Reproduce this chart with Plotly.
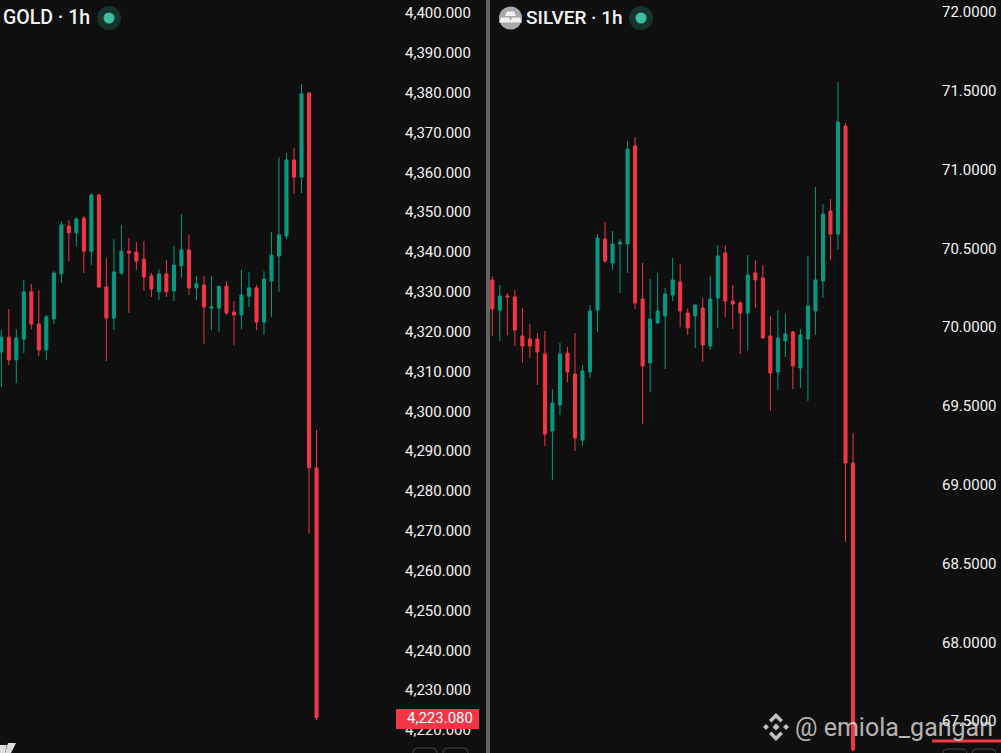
import plotly.graph_objects as go

gold_open = [4314.9,4318.6,4312.9,4318.1,4330.0,4321.9,4315.4,4323.2,4334.5,4346.5,4344.8,4348.5,4340.2,4354.3,4331.2,4323.4,4334.7,4340.2,4340.0,4338.2,4334.0,4330.0,4334.5,4330.2,4336.5,4340.5,4331.0,4331.7,4325.9,4325.9,4331.4,4324.9,4324.2,4328.9,4331.0,4322.4,4332.7,4339.0,4344.0,4363.1,4358.8,4379.9,4285.8]
gold_high = [4320.4,4325.7,4320.6,4333.0,4332.0,4330.4,4324.2,4335.2,4347.8,4348.0,4348.8,4349.0,4354.8,4354.6,4338.5,4343.2,4346.8,4343.5,4342.5,4342.8,4334.7,4335.7,4338.0,4341.5,4349.5,4344.3,4334.0,4334.0,4334.0,4331.5,4332.7,4327.7,4335.5,4335.0,4331.7,4335.2,4345.0,4363.8,4364.8,4366.1,4382.2,4380.2,4295.3]
gold_low = [4306.1,4311.6,4307.1,4314.6,4320.6,4313.9,4312.9,4321.9,4332.2,4337.7,4341.5,4334.7,4336.7,4331.0,4312.6,4320.4,4334.2,4324.7,4335.5,4330.2,4328.7,4327.9,4328.7,4327.7,4333.5,4329.2,4327.9,4316.9,4320.4,4319.9,4324.2,4316.6,4320.6,4326.2,4320.4,4319.2,4323.7,4330.0,4343.2,4354.6,4354.8,4269.4,4222.5]
gold_close = [4318.6,4312.9,4318.4,4330.0,4321.9,4315.4,4323.7,4334.7,4346.8,4344.8,4348.3,4340.2,4354.3,4331.2,4323.4,4335.0,4340.2,4339.7,4337.7,4333.7,4330.7,4334.5,4330.0,4336.7,4340.5,4331.0,4332.0,4326.2,4326.2,4331.4,4324.7,4324.2,4329.2,4331.0,4322.4,4333.2,4339.2,4344.3,4363.1,4358.8,4379.7,4285.8,4223.08]

silver_open = [70.299,70.109,70.198,70.192,69.944,69.925,69.925,69.830,69.341,69.506,69.836,69.703,69.284,69.716,70.109,70.559,70.407,70.528,70.528,71.150,70.179,69.773,70.027,70.071,70.204,70.287,70.090,70.071,70.122,69.881,70.185,70.471,70.166,70.154,70.090,70.344,70.312,69.944,69.716,69.913,69.970,69.741,69.925,70.103,70.293,70.737,70.591,71.277,69.138]
silver_high = [70.325,70.268,70.217,70.236,70.122,70.020,69.963,69.976,69.608,69.900,69.874,69.963,69.760,70.141,70.591,70.667,70.610,70.559,71.181,71.207,70.407,70.306,70.344,70.249,70.439,70.401,70.116,70.141,70.185,70.325,70.522,70.522,70.268,70.166,70.458,70.426,70.395,70.071,70.109,70.084,69.976,69.989,70.452,70.890,70.782,70.814,71.556,71.296,69.329]
silver_low = [69.944,69.912,69.951,69.881,69.773,69.805,69.633,69.246,69.031,69.443,69.652,69.214,69.246,69.677,69.969,70.407,70.363,70.217,70.344,70.116,69.386,69.589,70.020,69.735,70.166,70.001,69.951,69.868,69.779,69.855,69.995,70.065,69.989,69.830,69.855,70.122,69.925,69.468,69.602,69.811,69.608,69.614,69.532,69.951,70.185,70.426,70.490,68.637,67.31]
silver_close = [70.116,70.198,70.192,69.982,69.881,69.881,69.843,69.322,69.519,69.830,69.716,69.297,69.722,70.103,70.566,70.420,70.528,70.540,71.130,70.154,69.754,70.052,70.103,70.211,70.300,70.103,69.995,70.141,69.887,70.179,70.452,70.166,70.147,70.090,70.331,70.300,69.932,69.709,69.932,69.957,69.754,69.951,70.135,70.300,70.718,70.591,71.302,69.138,67.317]

gold_ticks = [4220,4230,4240,4250,4260,4270,4280,4290,4300,4310,4320,4330,4340,4350,4360,4370,4380,4390,4400]
silver_ticks = [67.5,68.0,68.5,69.0,69.5,70.0,70.5,71.0,71.5,72.0]
gold_title = "GOLD · 1h"
silver_title = "SILVER · 1h"
gold_last = 4223.08
silver_last_line = 67.374
watermark = "@ emiola_gangan"

BG = "#0f0f0f"
UP = "#089981"
DOWN = "#F23645"
W, H = 1001, 753
def px(x): return x / W
def py(y): return 1 - y / H

def candle(o, h, l, c, xa, ya):
    return go.Candlestick(
        x=list(range(len(o))), open=o, high=h, low=l, close=c,
        xaxis=xa, yaxis=ya, showlegend=False, whiskerwidth=0,
        increasing=dict(line=dict(color=UP, width=1), fillcolor=UP),
        decreasing=dict(line=dict(color=DOWN, width=1), fillcolor=DOWN),
    )

fig = go.Figure()
fig.add_trace(candle(gold_open, gold_high, gold_low, gold_close, "x", "y"))
fig.add_trace(candle(silver_open, silver_high, silver_low, silver_close, "x2", "y2"))

tick_font = dict(family="Roboto", size=15, color="#f2f2f2")

def circle(cx, cy, r, fill):
    return dict(type="circle", xref="paper", yref="paper", x0=px(cx-r), x1=px(cx+r), y0=py(cy+r), y1=py(cy-r),
                fillcolor=fill, line=dict(width=0), layer="above")

def poly(points, fill, line=None):
    d = "M " + " L ".join(f"{px(x):.5f},{py(y):.5f}" for x, y in points) + " Z"
    return dict(type="path", xref="paper", yref="paper", path=d, fillcolor=fill,
                line=line or dict(width=0), layer="above")

def diamond(cx, cy, r, fill):
    return poly([(cx, cy-r), (cx+r, cy), (cx, cy+r), (cx-r, cy)], fill)

def round_box(x0, x1, y0, y1, r=5):
    d = (f"M {px(x0):.5f},{py(y1):.5f} L {px(x0):.5f},{py(y0+r):.5f} Q {px(x0):.5f},{py(y0):.5f} {px(x0+r):.5f},{py(y0):.5f} "
         f"L {px(x1-r):.5f},{py(y0):.5f} Q {px(x1):.5f},{py(y0):.5f} {px(x1):.5f},{py(y0+r):.5f} L {px(x1):.5f},{py(y1):.5f}")
    return dict(type="path", xref="paper", yref="paper", path=d, line=dict(color="#4a4a4a", width=1), layer="above")

LOGO = "rgba(225,225,225,0.85)"
lx, ly = 776, 727
shapes = [
    dict(type="rect", xref="paper", yref="paper", x0=px(486), x1=px(490), y0=0, y1=1,
         fillcolor="#636363", line=dict(width=0), layer="above"),
    # status dots
    circle(109, 18, 12, "#17332e"), circle(109, 18, 5.5, "#3fbfa0"),
    circle(641, 18, 12, "#17332e"), circle(641, 18, 5.5, "#3fbfa0"),
    # silver icon
    circle(510.5, 18, 11.5, "#a9a9a9"),
    poly([(507, 11.5), (514, 11.5), (516, 16), (505, 16)], "#f2f2f2"),
    poly([(501, 17.5), (509, 17.5), (511, 22.5), (499, 22.5)], "#f2f2f2"),
    poly([(512, 17.5), (520, 17.5), (522, 22.5), (510, 22.5)], "#f2f2f2"),
    # gold price tag
    dict(type="rect", xref="paper", yref="paper", x0=px(396), x1=px(479), y0=py(729), y1=py(709),
         fillcolor=DOWN, line=dict(width=0), layer="above"),
    # bottom buttons
    round_box(413, 437, 748, 770), round_box(443, 468, 748, 770),
    round_box(943, 967, 749, 770), round_box(972, 996, 749, 770),
    # partial logo at bottom left
    poly([(0, 745), (7, 745), (5, 753), (0, 753)], "#dddddd"),
    poly([(8, 743), (16, 743), (11, 753), (5, 753)], "#dddddd"),
    # silver price tag edge
    dict(type="line", xref="paper", yref="y2", x0=px(932), x1=1, y0=silver_last_line, y1=silver_last_line,
         line=dict(color=DOWN, width=3), layer="above"),
    # watermark logo
    diamond(lx, ly, 3.5, LOGO), diamond(lx-10, ly, 3, LOGO), diamond(lx+10, ly, 3, LOGO),
    poly([(lx, ly-14), (lx+7, ly-7), (lx+4.5, ly-4.5), (lx, ly-9), (lx-4.5, ly-4.5), (lx-7, ly-7)], LOGO),
    poly([(lx, ly+14), (lx+7, ly+7), (lx+4.5, ly+4.5), (lx, ly+9), (lx-4.5, ly+4.5), (lx-7, ly+7)], LOGO),
]

annotations = [
    dict(text=gold_title, xref="paper", yref="paper", x=px(1), y=py(18), xanchor="left", yanchor="middle",
         showarrow=False, font=dict(family="Roboto", size=19.5, weight=500, color="#f4f4f4")),
    dict(text=silver_title, xref="paper", yref="paper", x=px(524), y=py(18), xanchor="left", yanchor="middle",
         showarrow=False, font=dict(family="Roboto", size=19, weight=500, color="#f4f4f4")),
    dict(text=f"{gold_last:,.3f}", xref="paper", yref="y", x=px(439.7), y=gold_last, xanchor="center", yanchor="middle",
         showarrow=False, font=dict(family="Roboto", size=15, color="#ffffff")),
    dict(text=watermark, xref="paper", yref="paper", x=px(793), y=py(727), xanchor="left", yanchor="middle",
         showarrow=False, font=dict(family="Roboto", size=25, color="rgba(225,225,225,0.8)")),
]

common_x = dict(showgrid=False, zeroline=False, showticklabels=False, ticks="", showline=False, rangeslider=dict(visible=False), fixedrange=True)
common_y = dict(showgrid=False, zeroline=False, side="right", ticks="", showline=False, tickfont=tick_font, fixedrange=True)

fig.update_layout(
    width=W, height=H, margin=dict(l=0, r=0, t=0, b=0),
    paper_bgcolor=BG, plot_bgcolor=BG, boxgap=0.42, showlegend=False,
    hovermode=False,
    xaxis=dict(domain=[0, 404/W], range=[(0-1.3)/7.505, (404-1.3)/7.505], **common_x),
    xaxis2=dict(domain=[490/W, 941/W], range=[(490-492.3)/7.515, (941-492.3)/7.515], **common_x),
    yaxis=dict(domain=[0, 1], range=[4400-740/3.983, 4400+13/3.983], tickvals=gold_ticks, tickformat=",.3f", anchor="x", **common_y),
    yaxis2=dict(domain=[0, 1], range=[72-741/157.6, 72+12/157.6], tickvals=silver_ticks, tickformat=".4f", anchor="x2", **common_y),
    shapes=shapes, annotations=annotations,
)

fig.write_html("out.html", config=dict(displayModeBar=False),
               post_script="document.body.style.margin='0';document.body.style.overflow='hidden';document.body.style.background='#0f0f0f';")
